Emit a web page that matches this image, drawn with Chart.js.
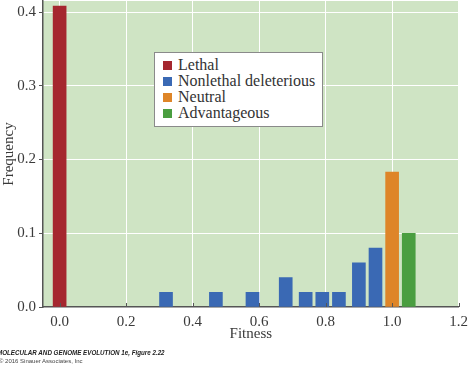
<!DOCTYPE html>
<html lang="en">
<head>
    <meta charset="UTF-8">
    <title>Fitness distribution</title>
    <script src="https://cdn.jsdelivr.net/npm/chart.js"></script>
    <style>
        body { margin: 0; background: #fff; }
        #wrap { position: relative; width: 474px; height: 365px; overflow: hidden; }
        #legendBox {
            position: absolute; left: 154px; top: 52px; width: 167px; height: 73px;
            border: 1px solid #8a8a8a; background: #fff;
            font-family: "Liberation Serif", serif; font-size: 16px; color: #333;
        }
        .item { position: absolute; left: 8px; height: 16px; line-height: 16px; white-space: nowrap; }
        .sw { display: inline-block; width: 9px; height: 9px; margin-right: 6px; vertical-align: 0px; }
        #credit1 {
            position: absolute; left: -3px; top: 348px; white-space: nowrap;
            font-family: "Liberation Sans Narrow", "Liberation Sans", sans-serif;
            font-style: italic; font-weight: bold; font-size: 8px; color: #222;
            transform: scaleX(0.78); transform-origin: left top;
        }
        #credit2 {
            position: absolute; left: -1px; top: 358px; white-space: nowrap;
            font-family: "Liberation Sans Narrow", "Liberation Sans", sans-serif;
            font-size: 6px; color: #444;
        }
    </style>
</head>
<body>
<div id="wrap">
    <canvas id="fitChart" width="474" height="365"></canvas>
    <div id="legendBox"></div>
    <div id="credit1">MOLECULAR AND GENOME EVOLUTION 1e, Figure 2.22</div>
    <div id="credit2">© 2016 Sinauer Associates, Inc</div>
</div>
<script>
    // fitness classes (x = fitness, y = frequency)
    const lethalX = [0.0];
    const lethalY = [0.408];
    const nonlethalX = [0.32, 0.47, 0.58, 0.68, 0.74, 0.79, 0.84, 0.90, 0.95];
    const nonlethalY = [0.02, 0.02, 0.02, 0.04, 0.02, 0.02, 0.02, 0.06, 0.08];
    const neutralX = [1.0];
    const neutralY = [0.183];
    const advantageousX = [1.05];
    const advantageousY = [0.10];

    const xTicks = [0.0, 0.2, 0.4, 0.6, 0.8, 1.0, 1.2];
    const yTicks = [0.0, 0.1, 0.2, 0.3, 0.4];

    const labels = ['Lethal', 'Nonlethal deleterious', 'Neutral', 'Advantageous'];
    const colors = ['#a5272f', '#3a69b4', '#de8528', '#4a9e40'];

    function pts(xs, ys) {
        return xs.map((x, i) => ({ x: x, y: ys[i] }));
    }

    const serif = '"Liberation Serif", serif';
    const textCol = '#3a3a3a';
    const axisCol = '#555';

    const bgPlugin = {
        id: 'bg',
        beforeDraw(chart) {
            const a = chart.chartArea, c = chart.ctx;
            c.save();
            c.fillStyle = '#cfe4c4';
            c.fillRect(a.left, a.top, a.right - a.left, a.bottom - a.top);
            c.restore();
        },
        afterDatasetsDraw(chart) {
            // short inward ticks on the x axis
            const a = chart.chartArea, c = chart.ctx, xs = chart.scales.x;
            c.save();
            c.strokeStyle = axisCol;
            c.lineWidth = 1;
            xTicks.forEach(v => {
                const px = Math.round(xs.getPixelForValue(v)) + 0.5;
                c.beginPath();
                c.moveTo(px, a.bottom);
                c.lineTo(px, a.bottom - 4);
                c.stroke();
            });
            c.restore();
        }
    };

    const datasets = [
        pts(lethalX, lethalY),
        pts(nonlethalX, nonlethalY),
        pts(neutralX, neutralY),
        pts(advantageousX, advantageousY)
    ].map((d, i) => ({
        label: labels[i],
        data: d,
        backgroundColor: colors[i],
        barThickness: 13,
        grouped: false
    }));

    new Chart(document.getElementById('fitChart'), {
        type: 'bar',
        data: { datasets: datasets },
        plugins: [bgPlugin],
        options: {
            responsive: false,
            animation: false,
            layout: { padding: { top: 1, right: 10, bottom: 20, left: 0 } },
            plugins: { legend: { display: false }, tooltip: { enabled: false } },
            scales: {
                x: {
                    type: 'linear',
                    offset: false,
                    min: -0.05,
                    max: 1.2,
                    afterBuildTicks: s => { s.ticks = xTicks.map(v => ({ value: v })); },
                    afterFit: s => { s.height = 38; },
                    grid: { color: '#ffffff', offset: false, drawTicks: false },
                    border: { color: axisCol, width: 1.5 },
                    ticks: {
                        padding: 6,
                        color: textCol,
                        font: { family: serif, size: 15 },
                        callback: v => v.toFixed(1)
                    },
                    title: {
                        display: true, text: 'Fitness', color: textCol,
                        font: { family: serif, size: 15 }, padding: { top: 0, bottom: 2 }
                    }
                },
                y: {
                    min: 0,
                    max: 0.415,
                    afterBuildTicks: s => { s.ticks = yTicks.map(v => ({ value: v })); },
                    afterFit: s => { s.width = 43; s.paddingTop = 0; },
                    grid: { color: '#ffffff', tickColor: axisCol, tickLength: 4 },
                    border: { color: axisCol, width: 1.5 },
                    ticks: {
                        padding: 3,
                        color: textCol,
                        font: { family: serif, size: 15 },
                        callback: v => v.toFixed(1)
                    },
                    title: {
                        display: true, text: 'Frequency', color: textCol,
                        font: { family: serif, size: 15 }, padding: { top: 0, bottom: 0 }
                    }
                }
            }
        }
    });

    // legend drawn inside the plot, built from the dataset labels/colours
    const box = document.getElementById('legendBox');
    labels.forEach((lab, i) => {
        const row = document.createElement('div');
        row.className = 'item';
        row.style.top = (4 + i * 16) + 'px';
        row.innerHTML = '<span class="sw" style="background:' + colors[i] + '"></span>' + lab;
        box.appendChild(row);
    });
</script>
</body>
</html>
